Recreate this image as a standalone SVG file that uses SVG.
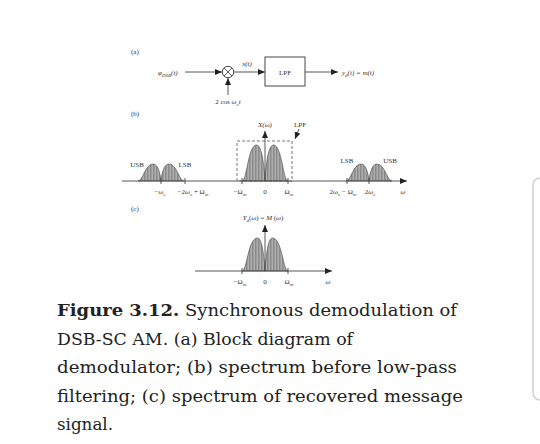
<svg xmlns="http://www.w3.org/2000/svg" width="540" height="444" viewBox="0 0 540 444">
<style>
.l{font-family:"Liberation Serif",serif;font-size:7px;fill:#333}
.i{font-style:italic}
.s{font-size:5px}
.ln{stroke:#444;stroke-width:0.9;fill:none}
.cap{font-family:"DejaVu Serif",serif;font-size:17px;fill:#222}
.lobe{fill:url(#hatch);stroke:#444;stroke-width:0.6}
</style>
<defs>
<marker id="ah" markerWidth="7" markerHeight="6" refX="7" refY="3" orient="auto" markerUnits="userSpaceOnUse">
<path d="M0,0 L7,3 L0,6 Z" fill="#222"/>
</marker>
<pattern id="hatch" width="1.5" height="2" patternUnits="userSpaceOnUse">
<rect width="1.5" height="2" fill="#b8b8b8"/>
<rect width="0.5" height="2" fill="#666"/>
</pattern>
</defs>
<rect width="540" height="444" fill="#fff"/>

<text class="l" x="131" y="54">(a)</text>
<text class="l" x="131" y="116">(b)</text>
<text class="l" x="131" y="211">(c)</text>

<g id="input-label"><text class="l i" x="158" y="75">φ<tspan class="s" dy="1.5">DSB</tspan><tspan dy="-1.5">(t)</tspan></text></g>
<g id="mixer">
<circle cx="228" cy="72" r="5.7" fill="#fff" stroke="#333" stroke-width="0.9"/>
<path d="M224,68 L232,76 M232,68 L224,76" stroke="#333" stroke-width="0.8"/>
</g>
<g id="osc-label"><text class="l" x="228" y="104" text-anchor="middle">2 cos <tspan class="i">ω</tspan><tspan class="s i" dy="1.5">c</tspan><tspan class="i" dy="-1.5">t</tspan></text></g>
<g id="lpf">
<rect x="265" y="57" width="40" height="29" fill="#fff" stroke="#333" stroke-width="0.9"/>
<text class="l" x="285" y="75" text-anchor="middle">LPF</text>
</g>
<g id="xt-label"><text class="l i" x="247" y="66" text-anchor="middle">x(t)</text></g>
<g id="output-label"><text class="l i" x="342" y="75">y<tspan class="s" dy="1.5">d</tspan><tspan dy="-1.5">(t) = m(t)</tspan></text></g>

<g id="connectors">
<line class="ln" x1="185" y1="72" x2="222" y2="72" marker-end="url(#ah)"/>
<line class="ln" x1="228" y1="95" x2="228" y2="78" marker-end="url(#ah)"/>
<line class="ln" x1="234" y1="72" x2="265" y2="72" marker-end="url(#ah)"/>
<line class="ln" x1="305" y1="72" x2="338" y2="72" marker-end="url(#ah)"/>
<line class="ln" x1="299" y1="129" x2="295" y2="139" marker-end="url(#ah)"/>
</g>

<g id="spectrum-b">
<path class="lobe" d="M138,181 C143,181 145,164 153,164 C159,164 160,176 161.5,181 Z"/>
<path class="lobe" d="M184,181 C179,181 177,164 169,164 C163,164 162,176 160.5,181 Z"/>
<path class="lobe" d="M242,181 C247,181 248,145 256.5,145 C263,145 264,172 265.5,181 Z"/>
<path class="lobe" d="M288,181 C283,181 282,145 273.5,145 C267,145 266,172 264.5,181 Z"/>
<path class="lobe" d="M346,181 C351,181 353,164 361,164 C367,164 368,176 369.5,181 Z"/>
<path class="lobe" d="M392,181 C387,181 385,164 377,164 C371,164 370,176 368.5,181 Z"/>
<line class="ln" x1="122" y1="181" x2="407" y2="181" marker-end="url(#ah)"/>
<line class="ln" x1="265" y1="181" x2="265" y2="131" marker-end="url(#ah)"/>
<rect x="237" y="141" width="55" height="40" fill="none" stroke="#555" stroke-width="0.8" stroke-dasharray="3 2"/>
<path class="ln" d="M161,178 V184 M185,178 V184 M242,178 V184 M288,178 V184 M347,178 V184 M369,178 V184"/>
<text class="l" x="137" y="167" text-anchor="middle">USB</text>
<text class="l" x="185" y="167" text-anchor="middle">LSB</text>
<text class="l" x="347" y="163" text-anchor="middle">LSB</text>
<text class="l" x="390" y="163" text-anchor="middle">USB</text>
<text class="l i" x="265" y="127" text-anchor="middle">X(ω)</text>
<text class="l" x="300" y="127" text-anchor="middle">LPF</text>
<text class="l" x="160" y="194" text-anchor="middle">−<tspan class="i">ω</tspan><tspan class="s i" dy="1.5">c</tspan></text>
<text class="l" x="193" y="194" text-anchor="middle">−2<tspan class="i">ω</tspan><tspan class="s i" dy="1.5">c</tspan><tspan dy="-1.5"> + Ω</tspan><tspan class="s i" dy="1.5">m</tspan></text>
<text class="l" x="240" y="194" text-anchor="middle">−Ω<tspan class="s i" dy="1.5">m</tspan></text>
<text class="l" x="265" y="194" text-anchor="middle">0</text>
<text class="l" x="289" y="194" text-anchor="middle">Ω<tspan class="s i" dy="1.5">m</tspan></text>
<text class="l" x="343" y="194" text-anchor="middle">2<tspan class="i">ω</tspan><tspan class="s i" dy="1.5">c</tspan><tspan dy="-1.5"> − Ω</tspan><tspan class="s i" dy="1.5">m</tspan></text>
<text class="l" x="370" y="194" text-anchor="middle">2<tspan class="i">ω</tspan><tspan class="s i" dy="1.5">c</tspan></text>
<text class="l i" x="403" y="194" text-anchor="middle">ω</text>
</g>

<g id="spectrum-c">
<path class="lobe" d="M242,271 C247,271 248,238 257.5,238 C263,238 264,262 265.5,271 Z"/>
<path class="lobe" d="M288,271 C283,271 282,238 272.5,238 C267,238 266,262 264.5,271 Z"/>
<line class="ln" x1="195" y1="271" x2="332" y2="271" marker-end="url(#ah)"/>
<line class="ln" x1="265" y1="271" x2="265" y2="225" marker-end="url(#ah)"/>
<path class="ln" d="M242,268 V274 M288,268 V274"/>
<text class="l" x="263" y="220" text-anchor="middle"><tspan class="i">Y</tspan><tspan class="s i" dy="1.5">d</tspan><tspan dy="-1.5">(</tspan><tspan class="i">ω</tspan>) = <tspan class="i">M</tspan> (<tspan class="i">ω</tspan>)</text>
<text class="l" x="240" y="284" text-anchor="middle">−Ω<tspan class="s i" dy="1.5">m</tspan></text>
<text class="l" x="265" y="284" text-anchor="middle">0</text>
<text class="l" x="289" y="284" text-anchor="middle">Ω<tspan class="s i" dy="1.5">m</tspan></text>
<text class="l i" x="328" y="284" text-anchor="middle">ω</text>
</g>

<g id="caption">
<text class="cap" x="57" y="316" textLength="400" lengthAdjust="spacingAndGlyphs"><tspan font-weight="bold">Figure 3.12.</tspan> Synchronous demodulation of</text>
<text class="cap" x="57" y="345" textLength="296" lengthAdjust="spacingAndGlyphs">DSB-SC AM. (a) Block diagram of</text>
<text class="cap" x="57" y="373" textLength="400" lengthAdjust="spacingAndGlyphs">demodulator; (b) spectrum before low-pass</text>
<text class="cap" x="57" y="402" textLength="406" lengthAdjust="spacingAndGlyphs">filtering; (c) spectrum of recovered message</text>
<text class="cap" x="57" y="430" textLength="56" lengthAdjust="spacingAndGlyphs">signal.</text>
</g>

<rect x="533" y="178" width="30" height="222" rx="7" fill="none" stroke="#d0d0d0" stroke-width="1.5"/>
</svg>
